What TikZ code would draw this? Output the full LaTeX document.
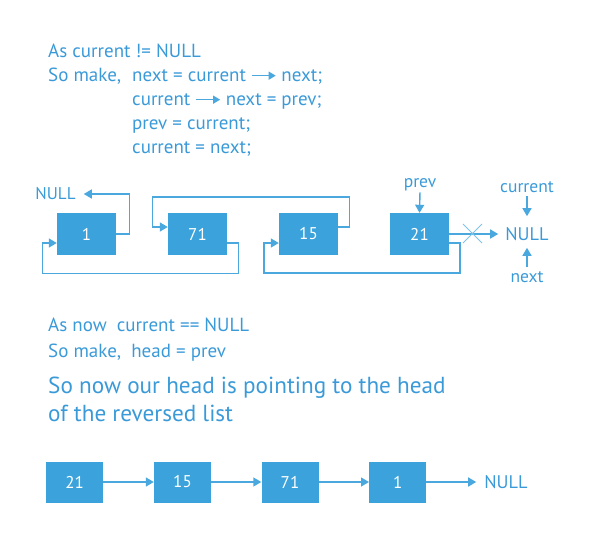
\documentclass[tikz,border=0pt]{standalone}
\usepackage{fontspec}
\setmainfont{PT Sans}
\usetikzlibrary{arrows.meta}
\definecolor{mblue}{HTML}{3BA2DB}
\definecolor{tblue}{HTML}{3A9AD8}
\definecolor{lblue}{HTML}{4AA8DF}
\newcommand{\inptr}{\tikz[baseline=-0.28em]{\draw[lblue,line width=1.3pt,-{Triangle[length=7pt,width=8pt]}] (0pt,0pt) -- (24pt,0pt);}}
\begin{document}
\begin{tikzpicture}[x=1pt,y=-1pt,
  box/.style={fill=mblue, draw=none, minimum width=59pt, minimum height=42pt, text=white, font=\fontsize{17}{17}\selectfont, inner sep=0pt},
  sbox/.style={box, minimum width=57pt, minimum height=41pt},
  conn/.style={lblue, line width=1.4pt, -{Triangle[length=8pt,width=9pt]}},
  txt/.style={text=tblue, font=\fontsize{19}{19}\selectfont, inner sep=0pt, anchor=base west},
  bigtxt/.style={txt, font=\fontsize{23.2}{23.2}\selectfont},
  lab/.style={text=tblue, font=\fontsize{17.5}{17.5}\selectfont, inner sep=0pt},
  nul/.style={text=tblue, font=\fontsize{18.3}{18.3}\selectfont, inner sep=0pt}]
\useasboundingbox (0,0) rectangle (595,550);
% top text
\node[txt] (t1) at (48,57) {As current != NULL};
\node[txt] (t2) at (48,81) {So make,};
\node[txt] (t2b) at (132,81) {next = current \inptr\ next;};
\node[txt] (t3) at (132,105) {current \inptr\ next = prev;};
\node[txt] (t4) at (132,129) {prev = current;};
\node[txt] (t5) at (132,153) {current = next;};
% top row
\node[box] (b1) at (86.5,234) {1};
\node[box] (b71) at (197.5,234) {71};
\node[box] (b15) at (308.5,234) {15};
\node[box] (b21) at (419.5,234) {21};
\node[nul, font=\fontsize{17}{17}\selectfont] (null1) at (55.5,194) {NULL};
\node[nul] (null2) at (527,234) {NULL};
\node[lab] (cur) at (527,187) {current};
\node[lab] (nxt) at (527,277) {next};
\node[lab] (prv) at (420,185) {prev};
\coordinate (k1) at (129.3,194);
\draw[conn] (b1.east) -| (k1) -- ([xshift=8pt]null1.east);
\draw[conn] ([yshift=7pt]b15.east) -| (349.3,197) -| (152.7,227) -- ([yshift=7pt]b71.west);
\draw[conn] ([yshift=-9pt]b71.east) -| (238.3,273.3) -| (42.3,243) -- ([yshift=-9pt]b1.west);
\draw[conn] ([yshift=-9pt]b21.east) -| (460,273) -| (264,243) -- ([yshift=-9pt]b15.west);
\draw[conn] (b21.east) -- ([xshift=-7pt]null2.west);
\draw[lblue!70, line width=0.8pt] (463,224) -- (482,243) (463,243) -- (482,224);
\draw[conn, shorten <=3pt, shorten >=11pt] (cur.south) -- (null2.north);
\draw[conn, shorten <=4pt, shorten >=7pt] (nxt.north) -- (null2.south);
\draw[conn, shorten <=1pt] (prv.south) -- (b21.north);
% middle text
\node[txt] (m1) at (48,331.5) {As now\ \ current == NULL};
\node[txt] (m2) at (48,357.5) {So make,\ \ head = prev};
\node[bigtxt] (m3) at (48,393) {So now our head is pointing to the head};
\node[bigtxt] (m4) at (48,421.5) {of the reversed list};
% bottom row
\node[sbox] (c21) at (74.7,482) {21};
\node[sbox] (c15) at (182.5,482) {15};
\node[sbox] (c71) at (290,482) {71};
\node[sbox] (c1) at (397.7,482) {1};
\node[nul] (null3) at (506,482) {NULL};
\draw[conn] (c21) -- (c15);
\draw[conn] (c15) -- (c71);
\draw[conn] (c71) -- (c1);
\draw[conn] (c1) -- ([xshift=-8pt]null3.west);
\end{tikzpicture}
\end{document}
